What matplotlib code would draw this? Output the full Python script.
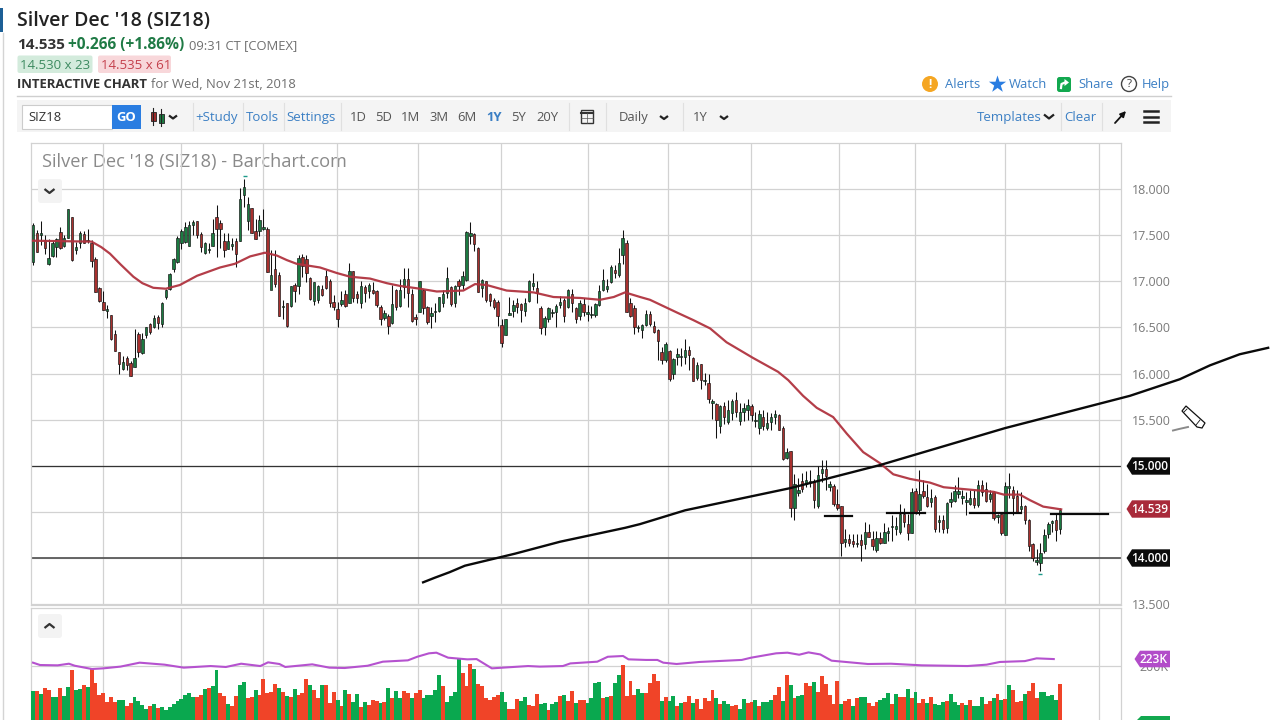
import matplotlib
matplotlib.use("Agg")
import matplotlib.pyplot as plt
from matplotlib.patches import Rectangle, FancyBboxPatch, Circle, Polygon

plt.rcParams["font.family"] = ["Open Sans", "DejaVu Sans"]

# daily candles for SIZ18
highs = [17.63,17.56,17.65,17.50,17.46,17.44,17.47,17.59,17.50,17.78,
         17.70,17.43,17.54,17.54,17.57,17.45,17.26,16.94,16.89,16.74,
         16.64,16.47,16.24,16.19,16.19,16.14,16.48,16.45,16.44,16.51,
         16.55,16.63,16.63,16.78,16.92,17.09,17.25,17.49,17.57,17.64,
         17.65,17.66,17.65,17.53,17.43,17.41,17.68,17.83,17.66,17.52,
         17.52,17.47,17.47,18.01,18.11,17.91,17.79,17.67,17.72,17.78,
         17.59,17.34,17.34,17.10,16.80,16.77,16.95,16.98,17.29,17.30,
         17.29,17.05,16.99,16.96,16.96,17.12,17.02,16.85,16.78,16.89,
         16.91,17.20,17.11,16.89,17.00,16.96,16.98,16.99,16.91,16.74,
         16.69,16.65,16.96,16.92,17.02,17.14,17.14,16.92,16.65,17.00,
         16.92,16.73,16.72,16.76,16.83,16.91,17.16,16.95,16.96,17.03,
         17.11,17.54,17.64,17.52,17.37,17.02,17.00,16.87,16.82,16.80,
         16.59,16.59,16.83,16.80,16.82,16.77,16.82,17.01,17.09,17.00,
         16.73,16.62,16.72,16.70,16.75,16.84,16.82,16.92,16.92,16.72,
         16.80,16.82,16.74,16.73,16.76,16.96,17.13,17.03,17.18,17.18,
         17.36,17.56,17.45,16.82,16.74,16.53,16.54,16.69,16.68,16.57,
         16.48,16.29,16.34,16.26,16.17,16.28,16.28,16.37,16.30,16.18,
         16.13,16.11,16.01,16.00,15.73,15.68,15.66,15.69,15.71,15.73,
         15.80,15.68,15.68,15.73,15.67,15.58,15.61,15.61,15.59,15.57,
         15.61,15.56,15.43,15.19,15.16,14.91,14.87,14.92,14.95,14.96,
         14.86,15.00,15.07,15.07,14.84,14.81,14.75,14.57,14.32,14.26,
         14.26,14.26,14.26,14.39,14.37,14.30,14.30,14.28,14.38,14.34,
         14.47,14.45,14.59,14.54,14.48,14.76,14.76,14.96,14.85,14.81,
         14.75,14.69,14.47,14.47,14.61,14.72,14.79,14.88,14.74,14.72,
         14.74,14.74,14.85,14.85,14.83,14.74,14.73,14.48,14.48,14.83,
         14.92,14.78,14.74,14.72,14.58,14.43,14.17,14.10,14.17,14.32,
         14.39,14.42,14.48,14.54]
lows = [17.18,17.32,17.39,17.30,17.18,17.26,17.26,17.35,17.37,17.47,
        17.22,17.30,17.36,17.41,17.41,17.15,16.88,16.78,16.69,16.60,
        16.36,16.25,16.00,16.04,16.04,15.97,16.07,16.18,16.21,16.39,
        16.43,16.49,16.48,16.50,16.81,16.91,17.10,17.20,17.35,17.42,
        17.38,17.50,17.47,17.32,17.30,17.31,17.38,17.26,17.36,17.26,
        17.35,17.34,17.15,17.44,17.81,17.56,17.52,17.46,17.49,17.56,
        17.10,16.94,16.94,16.62,16.59,16.51,16.72,16.78,16.86,17.05,
        16.99,16.80,16.74,16.76,16.84,16.92,16.72,16.69,16.50,16.73,
        16.72,16.76,16.78,16.77,16.71,16.78,16.82,16.86,16.72,16.53,
        16.58,16.43,16.54,16.69,16.72,16.82,16.72,16.56,16.53,16.67,
        16.65,16.54,16.49,16.56,16.67,16.72,16.82,16.73,16.72,16.85,
        16.92,17.00,17.40,17.33,16.88,16.83,16.78,16.73,16.70,16.52,
        16.29,16.42,16.63,16.61,16.66,16.56,16.62,16.78,16.91,16.76,
        16.43,16.42,16.56,16.61,16.51,16.71,16.56,16.71,16.67,16.55,
        16.58,16.62,16.57,16.60,16.61,16.73,16.89,16.88,16.98,17.04,
        17.05,17.19,16.67,16.61,16.43,16.45,16.39,16.52,16.52,16.44,
        16.15,16.11,16.13,15.92,15.94,16.09,16.08,16.11,16.04,15.92,
        15.93,15.83,15.88,15.68,15.51,15.30,15.36,15.45,15.45,15.50,
        15.53,15.44,15.49,15.50,15.49,15.42,15.35,15.39,15.39,15.39,
        15.46,15.39,15.06,15.08,14.45,14.41,14.67,14.72,14.77,14.77,
        14.54,14.55,14.83,14.74,14.73,14.57,14.52,14.03,14.12,14.13,
        14.12,14.12,13.97,14.10,14.23,14.09,14.07,14.16,14.17,14.19,
        14.19,14.25,14.26,14.34,14.20,14.27,14.48,14.47,14.65,14.56,
        14.56,14.29,14.28,14.27,14.27,14.56,14.61,14.65,14.59,14.47,
        14.58,14.55,14.56,14.67,14.61,14.61,14.41,14.38,14.25,14.25,
        14.65,14.47,14.49,14.49,14.37,14.08,13.97,13.93,13.86,14.06,
        14.22,14.28,14.19,14.26]
body_tops = [17.61,17.52,17.52,17.45,17.25,17.42,17.46,17.53,17.47,17.78,
             17.70,17.37,17.52,17.51,17.45,17.41,17.24,16.93,16.78,16.70,
             16.64,16.43,16.24,16.13,16.17,16.12,16.17,16.43,16.37,16.51,
             16.54,16.60,16.61,16.77,16.91,17.08,17.24,17.47,17.54,17.59,
             17.61,17.64,17.65,17.51,17.41,17.35,17.52,17.70,17.63,17.44,
             17.44,17.40,17.44,17.89,18.02,17.84,17.79,17.54,17.66,17.59,
             17.57,17.07,17.13,17.07,16.73,16.76,16.95,16.96,17.25,17.26,
             17.24,17.04,16.99,16.95,16.92,17.06,17.00,16.78,16.70,16.80,
             16.86,17.11,17.11,16.86,16.95,16.94,16.96,16.91,16.90,16.72,
             16.66,16.62,16.75,16.91,16.91,17.02,17.02,16.86,16.61,17.00,
             16.91,16.72,16.66,16.68,16.83,16.86,17.04,16.94,16.95,17.00,
             17.06,17.53,17.52,17.51,17.36,17.01,17.00,16.86,16.80,16.78,
             16.53,16.59,16.66,16.74,16.76,16.75,16.76,17.00,16.98,16.93,
             16.71,16.60,16.71,16.67,16.73,16.78,16.80,16.91,16.86,16.71,
             16.76,16.75,16.67,16.65,16.75,16.89,17.01,16.95,17.15,17.12,
             17.20,17.47,17.41,16.76,16.71,16.51,16.53,16.65,16.65,16.52,
             16.47,16.23,16.32,16.25,16.16,16.21,16.19,16.26,16.26,16.17,
             16.09,16.10,15.93,15.90,15.70,15.67,15.65,15.65,15.61,15.70,
             15.72,15.59,15.63,15.66,15.65,15.50,15.56,15.53,15.47,15.53,
             15.56,15.55,15.41,15.15,15.16,14.80,14.74,14.84,14.85,14.84,
             14.84,14.90,14.97,14.97,14.81,14.78,14.59,14.57,14.21,14.21,
             14.19,14.17,14.20,14.29,14.29,14.21,14.22,14.22,14.28,14.30,
             14.35,14.35,14.48,14.48,14.37,14.72,14.73,14.70,14.73,14.66,
             14.65,14.66,14.42,14.41,14.60,14.64,14.73,14.73,14.67,14.63,
             14.65,14.65,14.79,14.79,14.75,14.70,14.72,14.47,14.48,14.78,
             14.78,14.74,14.67,14.57,14.57,14.42,14.15,13.98,14.06,14.25,
             14.37,14.40,14.41,14.52]
body_bottoms = [17.21,17.32,17.50,17.36,17.19,17.27,17.37,17.36,17.38,17.47,
                17.23,17.34,17.41,17.41,17.44,17.22,16.88,16.79,16.69,16.68,
                16.37,16.25,16.11,16.05,16.09,15.98,16.07,16.24,16.22,16.42,
                16.45,16.51,16.55,16.54,16.83,16.92,17.13,17.21,17.41,17.43,
                17.38,17.61,17.50,17.37,17.31,17.34,17.38,17.57,17.57,17.34,
                17.35,17.38,17.30,17.44,17.93,17.65,17.52,17.46,17.54,17.57,
                17.10,16.91,16.97,16.62,16.72,16.52,16.73,16.90,16.95,17.17,
                17.09,16.81,16.79,16.80,16.85,16.93,16.76,16.72,16.59,16.75,
                16.73,16.76,16.82,16.82,16.76,16.87,16.90,16.87,16.74,16.59,
                16.60,16.52,16.55,16.72,16.73,16.94,16.87,16.57,16.59,16.67,
                16.71,16.56,16.62,16.67,16.68,16.76,16.87,16.75,16.76,16.95,
                16.96,17.01,17.49,17.40,16.88,16.93,16.80,16.79,16.72,16.62,
                16.33,16.42,16.64,16.68,16.72,16.69,16.68,16.79,16.95,16.87,
                16.49,16.51,16.59,16.66,16.67,16.74,16.62,16.72,16.76,16.59,
                16.62,16.67,16.65,16.63,16.64,16.74,16.91,16.92,16.99,17.09,
                17.07,17.28,16.67,16.62,16.51,16.49,16.47,16.53,16.54,16.45,
                16.35,16.15,16.15,15.94,16.00,16.18,16.18,16.18,16.20,15.92,
                15.95,15.93,15.92,15.73,15.68,15.50,15.43,15.53,15.48,15.57,
                15.59,15.49,15.59,15.61,15.55,15.49,15.41,15.43,15.41,15.48,
                15.53,15.39,15.08,15.09,14.55,14.54,14.71,14.75,14.81,14.83,
                14.63,14.57,14.92,14.89,14.77,14.59,14.54,14.17,14.18,14.17,
                14.16,14.16,14.14,14.15,14.23,14.13,14.09,14.17,14.17,14.27,
                14.34,14.32,14.28,14.39,14.27,14.27,14.50,14.52,14.67,14.57,
                14.61,14.32,14.39,14.32,14.33,14.61,14.62,14.70,14.65,14.61,
                14.59,14.58,14.58,14.72,14.62,14.64,14.44,14.45,14.27,14.25,
                14.76,14.65,14.50,14.53,14.41,14.13,14.00,13.96,13.95,14.08,
                14.26,14.38,14.31,14.32]
candle_dir = ("GRGRGGGRGG" "RGGRGRRRRG" "RRRGRRGRGG" "RGRGGGGGGG" "GGRRGGGRRR"
              "GGRGGGRRGG" "RGRRGRGRGR" "RRGG" "RRRRRGRGRR" "GRGRRRGRGR"
              "GGRRRGRRGG" "GGGRGRGGGR" "RGRRRRRGGG" "RRGGGRRGGG" "GGRGRRGRGG"
              "GGGGGRGGRR" "RGGGRRRRGR" "GGGGRRGRGR" "GRGRGGRGGG" "RGGRGGGRRG"
              "RGGRGGRGGR" "GRRRGRRGRG" "RRGRGGGGGR" "RGRGRRGRGR" "GGGGGGGRGR"
              "RGRGRGGRRG" "RRRGGGGGRG")

# 50 day average of price, [bar, price]
ma_bars = [0,15,17.5,19.7,22.5,25.7,28,30.8,34,37.6,42,47.9,51.7,55.6,59.4,62.4,65,67.5,73.5,77.8,81.2,86.3,90.6,
           94,99.1,103.4,110.2,113.2,116.2,121.3,128.2,133.3,140.1,145.2,148.7,151.6,155.5,158,
           165,169.1,173.4,177.6,184.4,190.8,193.4,197.2,200.7,204.9,208.4,212.6,216.9,220.3,
           224.6,229.7,233.2,238.3,246,248.6,252.7,255.3,258.7,263.3]
ma_vals = [17.44,17.43,17.37,17.30,17.18,17.05,16.98,16.93,16.92,16.96,17.06,17.15,17.19,17.27,17.31,17.28,17.23,17.19,17.15,
           17.09,17.05,17.03,16.98,16.95,16.92,16.89,16.90,16.97,16.96,16.90,16.88,16.83,16.82,16.80,
           16.83,16.88,16.83,16.80,16.66,16.58,16.49,16.34,16.17,16.02,15.93,15.76,15.63,15.53,15.35,
           15.15,15.03,14.91,14.86,14.82,14.77,14.75,14.72,14.69,14.69,14.63,14.56,14.53]

# hand drawn lines on the chart
trend_bars = [99.9,102.9,106.7,110.6,123.4,135,151.6,155.4,167,193.9,216.9,248.9,280.9,293.7,301.4,309,316.3]
trend_vals = [13.74,13.79,13.85,13.92,14.05,14.18,14.33,14.37,14.52,14.76,15.01,15.41,15.76,15.94,16.09,16.21,16.28]
drawn_levels = [(202.8,209.7,14.46),(218.7,228.4,14.49),(239.9,253,14.49),(260.7,275.3,14.475)]
low_high_marks = [(54.2,18.14),(257.9,13.83)]

price_ticks = [13.5,14,14.5,15,15.5,16,16.5,17,17.5,18]
price_labels = ["13.500","","","","15.500","16.000","16.500","17.000","17.500","18.000"]
month_lines = [17.9,37.9,58.9,77.8,98.6,119.8,142.1,162.7,183.9,206.4,225.9,248.9,273.1]

# volume in thousands
volumes = [114,114,103,122,116,91,93,122,96,126,185,116,120,134,128,189,139,99,105,76,
           91,76,82,82,61,73,91,80,65,51,61,68,53,57,47,59,68,80,87,99,
           106,93,91,99,120,122,130,185,105,96,68,61,96,134,144,88,93,116,99,154,
           105,110,137,122,110,96,93,120,99,105,154,134,116,90,134,134,70,110,82,61,
           116,103,76,103,59,75,65,82,78,70,75,122,89,113,89,113,107,89,107,116,
           89,99,99,116,168,130,75,96,110,222,176,130,206,189,137,130,89,82,92,99,
           110,75,51,51,85,78,92,65,61,103,68,72,47,68,75,96,99,78,114,72,
           82,82,72,88,139,143,89,93,96,139,168,202,96,147,99,120,107,107,139,171,
           147,78,92,78,96,61,72,75,96,72,85,51,89,78,116,89,68,78,68,61,
           65,51,85,72,75,82,61,75,75,82,99,127,78,168,134,89,96,99,140,130,
           144,110,165,137,99,68,147,68,78,85,61,89,92,92,72,61,75,82,89,106,
           68,103,92,92,120,89,110,72,85,72,92,68,65,75,78,103,75,65,72,65,
           82,61,61,92,68,78,89,103,82,85,134,116,75,78,103,113,140,89,110,110,
           96,99,82,137]
volume_dir = ("GRGRRGGRGGRGGRGRRRRR" "RRGGRRGGGGRGRGGGGGGG" "GGRRGRGGRRGRRGGRRGRR"
              "RRRGRGRGRRRGRRGRRRGR" "GRGGRGRRRGRGRGGRRGRR" "GGGGGRGGGGRRRGRRRRRR"
              "GGRRRGGRRRGGRGGRGRRG" "RRGGGGRGRGGRRRRGGRRR" "RGRGGRGRRGRRRRRGRGGR"
              "RGGRRGRGGGRRGRGRGGRR" "GRRRRRRGRRGRGGRRRGGG" "RGRRGRGRRGRGGGRGGGRG"
              "RGGGRRGRGRGRRRGRRRGGGGGR")
vol_ma_bars = [0,1.8,6.3,9.2,10.7,15.1,18,22.4,27.3,33.7,38.6,45.5,49.4,53.3,58.2,60.2,63.1,64.6,71.5,75.9,
               79.8,85.7,89.6,96,98.4,101.4,103.3,106.3,111.2,113.6,117.5,126.8,129.8,135.7,137.6,144.5,
               147.2,151.1,152.5,157,159.9,161.4,164.8,170.7,181.5,183.9,190.3,193.2,196.2,198.6,201.6,
               204.5,213.8,219.7,227.6,239.3,244.2,247.6,254,257,261.4]
vol_ma_vals = [210.6,202.5,201.4,207,200,188.7,191,197,210.6,203.7,193.4,199,195.7,207,199,211.7,206,195.7,204.8,193.4,
               192.2,200,214,218.6,231,242.8,245,227.8,222,223,191,199,197,199,208,214,
               231,233.6,222,220,220,210.6,206,213,220,227.8,242.8,245,238,246,239,
               217.5,206,207,201.4,199,203.7,213,216,225.5,223]

fig = plt.figure(figsize=(12.8, 7.2), dpi=100, facecolor="white")

# page furniture, in pixels
ui = fig.add_axes([0, 0, 1, 1], zorder=0)
ui.set_xlim(0, 1280)
ui.set_ylim(720, 0)
ui.axis("off")
top = fig.add_axes([0, 0, 1, 1], zorder=5)
top.set_xlim(0, 1280)
top.set_ylim(720, 0)
top.axis("off")

BLUE = "#3b7fc4"
GREY = "#6f6f6f"

def txt(a, x, y, s, size, color="#333333", weight="normal", ha="left", **kw):
    a.text(x, y + 1.2, s, fontsize=size * 0.72, color=color, fontweight=weight, ha=ha, va="center", **kw)

def chevron(a, x, y, w=4, h=3, color="#222222", up=False):
    d = -h if up else h
    a.plot([x - w, x, x + w], [y - d / 2, y + d / 2, y - d / 2], color=color, lw=1.6, solid_capstyle="butt")

def vsep(x):
    ui.plot([x, x], [103, 130], color="#e0e0e0", lw=0.8)

ui.add_patch(Rectangle((0, 8), 2.5, 24, color="#1c5f96", lw=0))
ui.plot([3, 3], [33, 720], color="#d4d4d4", lw=1)
ui.plot([17, 1171], [95.5, 95.5], color="#cfcfcf", lw=1)
ui.add_patch(Rectangle((17, 100), 1154, 32, color="#f4f4f4", lw=0))

txt(ui, 17, 20, "Silver Dec '18 (SIZ18)", 19.5, "#222222", "semibold")
txt(ui, 17, 43.5, "14.535", 15.3, "#333333", "bold")
txt(ui, 68, 43.5, "+0.266 (+1.86%)", 15.5, "#1f7a45", "bold")
txt(ui, 189, 44, "09:31 CT [COMEX]", 13, GREY)
ui.add_patch(FancyBboxPatch((17.5, 55.5), 75, 17.5, boxstyle="round,pad=0,rounding_size=2", color="#d3ebdc", lw=0))
ui.add_patch(FancyBboxPatch((98, 55.5), 73, 17.5, boxstyle="round,pad=0,rounding_size=2", color="#f8d7da", lw=0))
txt(ui, 20, 64, "14.530 x 23", 13.2, "#3d8a60")
txt(ui, 101, 64, "14.535 x 61", 13.2, "#c4404c")
txt(ui, 17, 83, "INTERACTIVE CHART", 13.1, "#333333", "bold")
txt(ui, 151, 83, "for Wed, Nov 21st, 2018", 13, GREY)

# right hand links
ui.add_patch(Circle((930, 84), 8, color="#f5a623", lw=0))
txt(ui, 930, 83, "!", 12, "white", "bold", ha="center")
txt(ui, 945, 83.5, "Alerts", 13, BLUE)
ui.scatter([997], [84], marker="*", s=170, color="#2a7de1", lw=0)
txt(ui, 1009, 83.5, "Watch", 13, BLUE)
ui.add_patch(FancyBboxPatch((1057, 77), 14, 15, boxstyle="round,pad=0,rounding_size=2.5", color="#12a84f", lw=0))
ui.plot([1061, 1061.5, 1065], [88, 84, 82.5], color="white", lw=1.6)
ui.add_patch(Polygon([(1064.5, 79), (1069, 82.5), (1064.5, 86)], color="white", lw=0))
txt(ui, 1078, 83.5, "Share", 13, BLUE)
ui.add_patch(Circle((1129, 84), 7.5, fc="white", ec="#444444", lw=1))
txt(ui, 1129, 83, "?", 11.5, "#444444", ha="center")
txt(ui, 1142, 83.5, "Help", 13, BLUE)

# toolbar
ui.add_patch(Rectangle((22, 105), 90, 23.5, fc="white", ec="#cccccc", lw=0.8))
ui.add_patch(Rectangle((112, 105), 29, 23.5, color="#2a7de1", lw=0))
txt(ui, 28, 116, "SIZ18", 13, "#333333")
txt(ui, 126.5, 116, "GO", 13, "white", "bold", ha="center")
ui.plot([153, 153], [108, 125], color="#222222", lw=0.8)
ui.plot([161, 161], [109, 126], color="#222222", lw=0.8)
ui.add_patch(Rectangle((150.5, 112), 5, 9, fc="#a02c2c", ec="#222222", lw=0.6))
ui.add_patch(Rectangle((158.5, 114), 5, 9, fc="#1b7a41", ec="#222222", lw=0.6))
chevron(ui, 173, 117)
for x in [192.5, 242.5, 283.5, 341, 568.5, 605.5, 682.5, 1061, 1101.5]:
    vsep(x)
txt(ui, 217, 116, "+Study", 13.2, BLUE, ha="center")
txt(ui, 262, 116, "Tools", 13.2, BLUE, ha="center")
txt(ui, 311, 116, "Settings", 13.2, BLUE, ha="center")
for x, s in zip([358, 384, 411, 439, 467, 519, 547], ["1D", "5D", "1M", "3M", "6M", "5Y", "20Y"]):
    txt(ui, x, 116, s, 13, "#555555", ha="center")
txt(ui, 494, 116, "1Y", 13, BLUE, "bold", ha="center")
ui.add_patch(Rectangle((581, 110), 12, 13, fc="none", ec="#333333", lw=1))
ui.plot([581, 593], [113, 113], color="#333333", lw=1.5)
ui.plot([581, 593], [117.5, 117.5], color="#555555", lw=0.5)
ui.plot([587, 587], [113, 123], color="#555555", lw=0.5)
txt(ui, 634, 116, "Daily", 13, "#555555", ha="center")
chevron(ui, 664, 117.5)
txt(ui, 700, 116, "1Y", 13, "#555555", ha="center")
chevron(ui, 724, 117.5)
txt(ui, 1009, 116, "Templates", 13.2, BLUE, ha="center")
chevron(ui, 1049, 116.5, w=5, h=4)
txt(ui, 1080, 116, "Clear", 13.2, BLUE, ha="center")
ui.annotate("", xy=(1126, 111), xytext=(1115, 123),
            arrowprops=dict(arrowstyle="-|>", color="#111111", lw=1.3, mutation_scale=8, shrinkA=0, shrinkB=0))
for y in [111, 116.5, 122]:
    ui.plot([1144, 1158], [y, y], color="#222222", lw=1.8)

# price panel, x is the bar number
ax = fig.add_axes([31 / 1280, 1 - 605 / 720, 1090 / 1280, 462 / 720], zorder=2)
ax.patch.set_alpha(0)
x_left = -2 / 3.905
x_right = 1088 / 3.905
ax.set_xlim(x_left, x_right)
ax.set_ylim(18 - 416 / 92.33, 18 + 46 / 92.33)
ax.set_xticks(month_lines)
ax.set_yticks(price_ticks)
ax.set_yticklabels(price_labels, fontsize=9, color="#7a7a7a")
ax.tick_params(axis="both", length=0, labelbottom=False, labelleft=False, labelright=True, pad=7.5)
ax.grid(True, color="#d2d2d2", lw=0.9)
ax.set_axisbelow(True)
for s in ax.spines.values():
    s.set_color("#d2d2d2")
    s.set_linewidth(0.9)

ax.axhline(15, color="#333333", lw=0.9, zorder=2)
ax.axhline(14, color="#5a5a5a", lw=1.3, zorder=2)

bars = list(range(len(highs)))
colors = ["#1b7a41" if d == "G" else "#a8302e" for d in candle_dir]
ax.vlines(bars, lows, highs, color="#111111", lw=0.75, zorder=3)
ax.bar(bars, [t - b for t, b in zip(body_tops, body_bottoms)], bottom=body_bottoms, width=0.62,
       color=colors, edgecolor="#111111", linewidth=0.45, zorder=4)
ax.plot(ma_bars, ma_vals, color="#b0333f", lw=1.6, alpha=0.95, zorder=5, solid_joinstyle="round")
ax.plot(trend_bars, trend_vals, color="#0a0a0a", lw=1.7, clip_on=False, zorder=6)
for x0, x1, p in drawn_levels:
    ax.plot([x0, x1], [p, p], color="#0a0a0a", lw=1.6, zorder=6)
ax.plot(*zip(*low_high_marks), ls="none", marker="_", ms=2.5, mew=1, color="#1d9a8a", zorder=6)

ui.text(42, 162, "Silver Dec '18 (SIZ18) - Barchart.com", fontsize=18.3 * 0.72, color="#8a8a8a", va="center")

# volume panel
vol = fig.add_axes([31 / 1280, 0, 1090 / 1280, 112 / 720], zorder=2)
vol.patch.set_alpha(0)
vol.set_xlim(x_left, x_right)
vol.set_ylim(13, 399)
vol.set_xticks(month_lines)
vol.set_yticks([200])
vol.set_yticklabels(["200K"], fontsize=9, color="#7a7a7a")
vol.tick_params(axis="both", length=0, labelbottom=False, labelleft=False, labelright=True, pad=13)
vol.grid(True, color="#d2d2d2", lw=0.9)
vol.set_axisbelow(True)
for s in vol.spines.values():
    s.set_color("#d2d2d2")
    s.set_linewidth(0.9)
vol.spines["bottom"].set_visible(False)
vol_colors = ["#0aa84f" if d == "G" else "#f04428" for d in volume_dir]
vol.bar(range(len(volumes)), volumes, width=1.0, color=vol_colors, lw=0, zorder=3)
vol.plot(vol_ma_bars, vol_ma_vals, color="#b552cf", lw=1.5, zorder=4)

# collapse buttons
for yc, is_up in [(191, False), (626, True)]:
    top.add_patch(FancyBboxPatch((38, yc - 12), 24, 24, boxstyle="round,pad=0,rounding_size=3", color="#f3f3f3", lw=0))
    chevron(top, 49.5, yc, w=5, h=4, up=is_up, color="#333333")

# value tags on the price scale
def tag(y, s, color, x0=1132, h=8.7, size=11.8):
    top.add_patch(Polygon([(x0 - 5.5, y), (x0, y - h), (1170, y - h), (1170, y + h), (x0, y + h)], color=color, lw=0))
    txt(top, 1150 if x0 == 1132 else 1154, y - 1, s, size, "white", "semibold", ha="center")

tag(466, "15.000", "#0b0b0b")
tag(509, "14.539", "#a82a3a")
tag(558, "14.000", "#0b0b0b")
tag(659, "223K", "#b24cc9", x0=1140, h=8.3, size=12)
top.add_patch(Polygon([(1137, 720), (1141, 716), (1170, 716), (1170, 720)], color="#12a84f", lw=0))

# pencil cursor
top.add_patch(Polygon([(1182, 411), (1186, 406), (1205, 423), (1202, 428), (1197, 427)], fc="white", ec="#111111", lw=0.9))
top.plot([1187, 1183.5], [409, 412.5], color="#111111", lw=0.6)
top.plot([1200, 1196], [420, 425], color="#111111", lw=0.6)
top.plot([1173, 1179, 1188], [430.5, 429, 427], color="#8a8a8a", lw=1.4)

fig.savefig("out.png", dpi=100)
